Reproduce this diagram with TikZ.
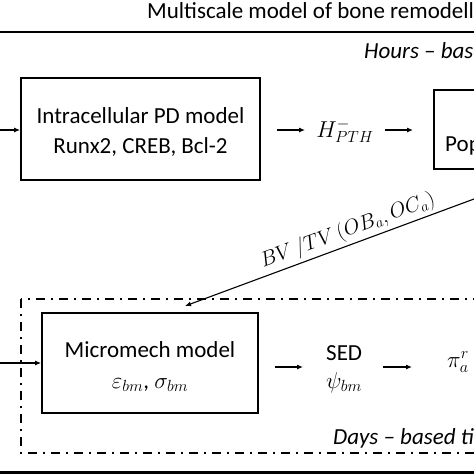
\RequirePackage{fix-cm}
\documentclass[tikz,border=0pt]{standalone}
\usepackage{fontspec}
\setmainfont{Carlito}
\usetikzlibrary{arrows.meta}
\begin{document}
\begin{tikzpicture}[x=1pt,y=-1pt,
  box/.style={draw,line width=1.8pt,inner sep=0pt},
  arr/.style={-{Latex[length=6pt,width=5pt]},line width=1.1pt},
  txt/.style={font=\fontsize{23}{27}\selectfont,inner sep=0pt},
  mtxt/.style={font=\fontsize{23}{27}\selectfont,inner sep=0pt},
  ltxt/.style={font=\fontsize{21}{25}\selectfont,inner sep=0pt},
  frame/.style={line width=1.8pt,dash pattern=on 9pt off 6pt on 2pt off 6pt}]
\useasboundingbox (0,0) rectangle (474,474);
\clip (0,0) rectangle (474,474);
% title and rules
\node[txt,anchor=base west] (title) at (147,18) {Multiscale model of bone remodelling};
\coordinate (tl) at (0,32);
\coordinate (tr) at (474,32);
\draw[line width=2pt] (tl) -- (tr);
\coordinate (bl) at (0,472);
\coordinate (br) at (474,472);
\draw[line width=3pt] (bl) -- (br);
\node[txt,anchor=base west] (hours) at (364,58) {\itshape Hours -- based};
% upper row
\node[box,minimum width=239pt,minimum height=102pt] (ic) at (140.5,129) {};
\node[txt,anchor=base] (ic1) at (140.5,123) {Intracellular PD model};
\node[txt,anchor=base] (ic2) at (140.5,153) {Runx2, CREB, Bcl-2};
\coordinate (in1) at (0,130);
\draw[arr] (in1) -- (in1 -| ic.west);
\node[mtxt] (H) at (345,131) {$H^{-}_{PTH}$};
\coordinate (a1s) at (277,130);
\coordinate (a1e) at (305,130);
\draw[arr] (a1s) -- (a1e);
\coordinate (a2s) at (385,130);
\coordinate (a2e) at (413,130);
\draw[arr] (a2s) -- (a2e);
\node[box,minimum width=60pt,minimum height=79pt,anchor=north west] (pop) at (433,89) {};
\node[txt,anchor=base west] (pop1) at (445,151) {Population model};
% diagonal
\coordinate (dstart) at (474,199);
\coordinate (dend) at (185,306);
\draw[arr] (dstart) -- node[pos=0.42,sloped,above=3pt,ltxt] (bvtv) {$BV\,/TV\,(OB_a,OC_a)$} (dend);
% lower frame
\coordinate (f1) at (21,299);
\coordinate (f2) at (500,453);
\draw[frame] (f1) rectangle (f2);
\node[box,minimum width=216pt,minimum height=100pt] (mm) at (150,363) {};
\node[txt,anchor=base] (mm1) at (150,357) {Micromech model};
\node[mtxt,anchor=base] (mm2) at (150,388) {$\varepsilon_{bm}$, $\sigma_{bm}$};
\coordinate (in2) at (0,363);
\draw[arr] (in2) -- (in2 -| mm.west);
\coordinate (a3s) at (275,367);
\coordinate (a3e) at (303,367);
\draw[arr] (a3s) -- (a3e);
\node[txt,anchor=base west] (sed1) at (326,360) {SED};
\node[mtxt,anchor=base west] (sed2) at (326,388) {$\psi_{bm}$};
\coordinate (a4s) at (383,367);
\coordinate (a4e) at (412,367);
\draw[arr] (a4s) -- (a4e);
\node[mtxt,anchor=base west] (pi) at (447,367) {$\pi_{a}^{r}$};
\node[txt,anchor=base west] (days) at (333,444) {\itshape Days -- based time};
\end{tikzpicture}
\end{document}
